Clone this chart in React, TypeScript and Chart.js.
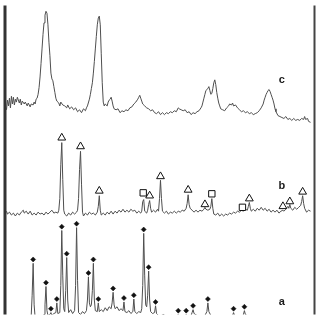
import { useEffect, useRef } from 'react';
import { Chart, registerables } from 'chart.js';

Chart.register(...registerables);

// 2θ (deg) vs intensity (a.u.), each trace relative to its own baseline
const traceC: [number, number][] = [
  [4.8,12],[5.0,22],[5.2,16],[5.4,24],[5.6,14],[5.8,26],[6.0,18],[6.2,25],[6.4,17],[6.6,23],[6.8,20],[7.0,25],[7.4,19],[7.6,23],[7.8,17],[8.0,21],[8.4,18],[8.6,20],[9.0,16],[9.2,19],[9.6,15],[9.8,18],[10.2,17],[10.4,20],[10.6,18],[10.8,23],[11.0,24],[11.2,28],[11.4,35],[11.6,46],[11.8,60],[12.0,75],[12.2,90],[12.4,102],[12.6,110],[12.8,114],[13.0,112],[13.2,100],[13.4,82],[13.6,68],[13.8,50],[14.0,44],[14.2,42],[14.4,36],[14.6,30],[14.8,24],[15.0,21],[15.4,19],[15.6,16],[15.8,20],[16.2,17],[16.6,16],[17.0,14],[17.2,17],[17.6,13],[18.0,15],[18.4,12],[18.8,14],[19.2,10],[19.6,12],[20.0,9],[20.4,13],[20.8,11],[21.0,14],[21.2,16],[21.6,23],[21.8,28],[22.0,34],[22.2,40],[22.4,50],[22.6,62],[22.8,75],[23.0,88],[23.2,100],[23.4,107],[23.6,109],[23.8,100],[24.0,70],[24.2,40],[24.4,20],[24.6,16],[24.8,18],[25.2,16],[25.4,20],[25.6,22],[25.8,23],[26.0,25],[26.2,21],[26.4,16],[26.6,13],[27.0,12],[27.4,13],[27.8,9],[28.2,11],[28.6,10],[29.0,12],[29.4,11],[29.8,14],[30.2,15],[30.6,18],[31.0,20],[31.4,23],[31.6,25],[31.8,27],[32.0,24],[32.2,21],[32.4,18],[32.8,16],[33.2,14],[33.6,13],[34.0,11],[34.4,12],[34.8,9],[35.2,8],[35.6,10],[36.0,7],[36.4,9],[36.8,7],[37.2,9],[37.6,8],[38.0,10],[38.4,9],[38.8,11],[39.2,10],[39.6,14],[39.8,13],[40.2,12],[40.6,11],[41.0,12],[41.4,9],[41.8,10],[42.2,7],[42.6,9],[43.0,8],[43.4,10],[43.8,11],[44.2,14],[44.4,16],[44.6,20],[44.8,24],[45.0,28],[45.2,32],[45.4,33],[45.6,34],[45.8,36],[46.0,32],[46.2,28],[46.4,29],[46.6,34],[46.8,40],[47.0,43],[47.2,38],[47.4,30],[47.6,24],[47.8,19],[48.0,16],[48.2,13],[48.6,12],[49.0,11],[49.4,14],[49.8,16],[50.0,18],[50.4,17],[50.6,19],[50.8,16],[51.2,17],[51.6,14],[52.0,12],[52.4,10],[52.8,11],[53.2,9],[53.6,10],[54.0,8],[54.4,9],[54.8,7],[55.2,8],[55.6,9],[56.0,11],[56.4,14],[56.8,18],[57.0,22],[57.2,25],[57.4,28],[57.6,30],[57.8,32],[58.0,33],[58.2,31],[58.4,28],[58.6,25],[58.8,22],[59.0,18],[59.2,13],[59.4,10],[59.8,6],[60.2,5],[60.6,4],[61.0,3],[61.4,5],[61.8,2],[62.2,3],[62.6,1],[63.0,3],[63.4,1],[63.8,2],[64.2,1],[64.6,3],[65.0,2],[65.2,5],[65.4,2],[65.8,3],[66.0,0],[66.4,-1]
];

const traceB: [number, number][] = [
  [4.8,7],[5.0,4],[5.4,6],[5.8,3],[6.2,5],[6.6,2],[7.0,5],[7.4,3],[7.8,6],[8.2,8],[8.4,5],[8.8,7],[9.2,4],[9.6,7],[10.0,3],[10.4,5],[10.8,3],[11.2,6],[11.6,4],[12.0,5],[12.4,3],[12.8,6],[13.2,4],[13.6,6],[14.0,8],[14.4,5],[14.8,6],[15.2,5],[15.4,8],[15.6,20],[15.8,55],[16.0,78],[16.2,40],[16.4,8],[16.6,4],[17.0,2],[17.4,5],[17.8,3],[18.2,6],[18.6,4],[19.0,6],[19.2,8],[19.4,20],[19.6,50],[19.8,69],[20.0,35],[20.2,6],[20.4,2],[20.8,5],[21.2,3],[21.6,6],[22.0,4],[22.4,5],[22.8,3],[23.2,6],[23.4,12],[23.6,23],[23.8,8],[24.0,3],[24.4,5],[24.8,3],[25.2,6],[25.6,4],[26.0,7],[26.4,4],[26.8,7],[27.2,5],[27.6,8],[28.0,6],[28.4,9],[28.8,6],[29.2,8],[29.6,6],[30.0,9],[30.4,7],[30.8,8],[31.2,5],[31.6,7],[32.0,5],[32.2,7],[32.4,17],[32.6,19],[32.8,7],[33.2,5],[33.4,8],[33.6,14],[33.8,18],[34.0,10],[34.2,6],[34.6,8],[35.0,6],[35.4,9],[35.6,7],[35.8,20],[36.0,39],[36.2,20],[36.4,7],[36.8,5],[37.2,7],[37.6,4],[38.0,6],[38.4,5],[38.8,7],[39.2,5],[39.6,7],[40.0,6],[40.4,8],[40.8,7],[41.2,10],[41.4,15],[41.6,24],[41.8,14],[42.0,10],[42.4,8],[42.8,6],[43.2,8],[43.6,6],[44.0,8],[44.4,7],[44.8,9],[45.0,11],[45.2,9],[45.6,8],[46.0,9],[46.2,12],[46.4,20],[46.6,10],[46.8,4],[47.2,3],[47.6,5],[48.0,2],[48.4,4],[48.8,2],[49.2,4],[49.6,3],[50.0,5],[50.4,4],[50.8,6],[51.2,5],[51.6,7],[52.0,6],[52.4,8],[52.8,7],[53.0,12],[53.2,9],[53.6,8],[53.8,12],[54.0,16],[54.2,10],[54.4,7],[54.8,9],[55.2,7],[55.6,10],[56.0,8],[56.4,11],[56.8,8],[57.2,10],[57.6,7],[58.0,9],[58.4,6],[58.8,8],[59.2,6],[59.6,8],[60.0,5],[60.4,7],[60.8,8],[61.0,7],[61.4,9],[61.8,12],[62.0,10],[62.2,14],[62.4,10],[62.8,8],[63.2,11],[63.6,9],[64.0,11],[64.4,13],[64.6,17],[64.8,23],[65.0,15],[65.2,10],[65.6,6],[66.0,8],[66.4,7]
];

const traceA: [number, number][] = [
  [4.8,-5],[5.8,-3],[6.8,-6],[7.8,-4],[8.8,-2],[9.6,-4],[9.8,-2],[10.0,20],[10.2,53],[10.4,10],[10.6,-3],[11.2,-1],[11.8,-3],[12.4,0],[12.6,10],[12.8,29],[13.0,4],[13.2,-1],[13.6,0],[13.8,2],[14.0,-1],[14.4,1],[14.8,2],[15.0,12],[15.2,1],[15.6,2],[15.8,30],[16.0,87],[16.2,40],[16.4,6],[16.6,3],[16.8,25],[17.0,59],[17.2,15],[17.4,2],[17.8,5],[18.2,1],[18.6,4],[18.8,30],[19.0,90],[19.2,35],[19.4,2],[19.8,0],[20.2,3],[20.6,1],[21.0,4],[21.2,15],[21.4,39],[21.6,12],[21.8,8],[22.0,10],[22.2,25],[22.4,53],[22.6,15],[22.8,4],[23.2,3],[23.4,12],[23.6,3],[24.0,5],[24.4,3],[24.8,7],[25.2,4],[25.6,8],[26.0,6],[26.2,12],[26.4,23],[26.6,10],[26.8,6],[27.2,8],[27.6,4],[28.0,6],[28.4,4],[28.6,13],[28.8,3],[29.2,2],[29.6,4],[30.0,1],[30.4,3],[30.6,16],[30.8,3],[31.2,1],[31.6,3],[32.0,2],[32.2,6],[32.4,30],[32.6,84],[32.8,40],[33.0,10],[33.2,8],[33.4,20],[33.6,45],[33.8,15],[34.0,3],[34.4,1],[34.8,2],[35.0,9],[35.2,1],[35.8,-2],[36.6,0],[37.4,-3],[38.2,-1],[39.0,-2],[39.4,-1],[39.6,0],[39.8,-2],[40.4,-3],[41.0,-2],[41.2,0],[41.4,-2],[42.2,-1],[42.4,2],[42.6,5],[42.8,1],[43.4,-1],[44.2,-3],[45.0,-1],[45.4,3],[45.6,12],[45.8,3],[46.2,-1],[47.2,-3],[48.2,-2],[49.2,-4],[50.2,-2],[50.6,-1],[50.8,2],[51.0,-1],[51.8,-3],[52.6,-2],[52.8,0],[53.0,4],[53.2,0],[54.2,-3],[56.2,-4],[58.2,-3],[60.2,-5],[62.2,-4],[64.2,-5],[66.4,-4]
];

// vertical offsets of the stacked patterns
const offsetA = 0;
const offsetB = 100;
const offsetC = 200;

// phase markers: [2θ, intensity relative to trace baseline]
const triangleMarksB: [number, number][] = [
  [16.0,83],[19.8,74],[23.6,28],[33.8,23],[36.0,43],[41.6,29],[45.0,14],[54.0,20],[60.8,12],[62.2,17],[64.8,27]
];
const squareMarksB: [number, number][] = [[32.5,26],[46.4,25],[52.6,11]];
const dotMarksA: [number, number][] = [
  [10.2,57],[12.8,33],[13.8,6],[15.0,16],[16.0,91],[17.0,63],[19.0,94],[21.4,43],[22.4,57],[23.4,16],[26.4,27],[28.6,17],[30.6,20],[32.6,88],[33.6,49],[35.0,13],[39.6,4],[41.2,4],[42.6,9],[45.6,16],[50.8,6],[53.0,8]
];

const traceLabels = ['c', 'b', 'a'];
const labelTheta = [60.6, 60.6, 60.6];
const labelY = [243, 133, 13];

const X_MIN = 4.6;
const X_MAX = 67.2;
const Y_MIN = 0;
const Y_MAX = 320;

const toXY = (arr: [number, number][], off: number) => arr.map(([x, y]) => ({ x, y: y + off }));

const framePlugin = {
  id: 'frameAndLabels',
  afterDatasetsDraw(chart: any) {
    const { ctx, chartArea, scales } = chart;
    ctx.save();
    ctx.fillStyle = '#333';
    ctx.fillRect(chartArea.left - 2, chartArea.top, 3, chartArea.bottom - chartArea.top);
    ctx.fillStyle = '#444';
    ctx.fillRect(chartArea.right - 1, chartArea.top, 2, chartArea.bottom - chartArea.top);
    ctx.fillStyle = '#1a1a1a';
    ctx.font = 'bold 11px "Liberation Sans", Arial, sans-serif';
    ctx.textAlign = 'center';
    ctx.textBaseline = 'middle';
    traceLabels.forEach((t, i) => {
      ctx.fillText(t, scales.x.getPixelForValue(labelTheta[i]), scales.y.getPixelForValue(labelY[i]));
    });
    ctx.restore();
  },
};

export default function App() {
  const ref = useRef<HTMLCanvasElement>(null);
  useEffect(() => {
    if (!ref.current) return;
    const lineDs = (label: string, arr: [number, number][], off: number) => ({
      label,
      data: toXY(arr, off),
      borderColor: '#4f4f4f',
      borderWidth: 1,
      pointRadius: 0,
      tension: 0,
      fill: false,
    });
    const chart = new Chart(ref.current, {
      type: 'line',
      data: {
        datasets: [
          {
            label: 'triangles',
            data: toXY(triangleMarksB, offsetB),
            showLine: false,
            pointStyle: 'triangle',
            pointRadius: 4.5,
            pointBackgroundColor: '#fff',
            pointBorderColor: '#111',
            pointBorderWidth: 1,
          },
          {
            label: 'squares',
            data: toXY(squareMarksB, offsetB),
            showLine: false,
            pointStyle: 'rect',
            pointRadius: 4.5,
            pointBackgroundColor: '#fff',
            pointBorderColor: '#111',
            pointBorderWidth: 1,
          },
          {
            label: 'dots',
            data: toXY(dotMarksA, offsetA),
            showLine: false,
            pointStyle: 'rectRot',
            pointRadius: 2.5,
            pointBackgroundColor: '#111',
            pointBorderColor: '#111',
            pointBorderWidth: 0.5,
          },
          lineDs('c', traceC, offsetC),
          lineDs('b', traceB, offsetB),
          lineDs('a', traceA, offsetA),
        ] as any,
      },
      options: {
        animation: false,
        responsive: false,
        devicePixelRatio: 1,
        events: [],
        layout: { padding: { left: 2, right: 5, top: 0, bottom: 0 } },
        plugins: { legend: { display: false }, tooltip: { enabled: false } },
        scales: {
          x: { type: 'linear', min: X_MIN, max: X_MAX, display: false },
          y: { type: 'linear', min: Y_MIN, max: Y_MAX, display: false },
        },
      },
      plugins: [framePlugin],
    });
    return () => chart.destroy();
  }, []);
  return (
    <div style={{ position: 'fixed', left: 0, top: 0, width: 320, height: 320, overflow: 'hidden', background: '#fff' }}>
      <canvas ref={ref} width={320} height={320} style={{ display: 'block', width: 320, height: 320 }} />
    </div>
  );
}
